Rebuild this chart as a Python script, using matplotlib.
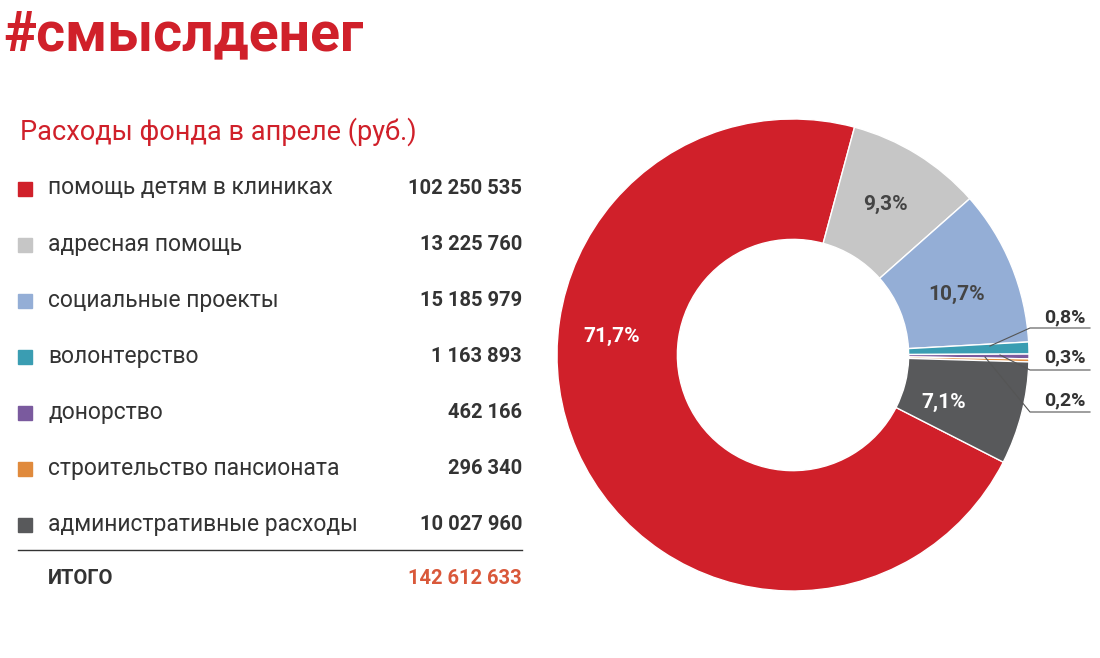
import matplotlib
matplotlib.use("Agg")
import matplotlib.pyplot as plt

categories = ["помощь детям в клиниках", "адресная помощь", "социальные проекты",
              "волонтерство", "донорство", "строительство пансионата",
              "административные расходы"]
amounts = [102250535, 13225760, 15185979, 1163893, 462166, 296340, 10027960]
amount_labels = ["102 250 535", "13 225 760", "15 185 979", "1 163 893",
                 "462 166", "296 340", "10 027 960"]
total_label = "142 612 633"
pct_labels = ["71,7%", "9,3%", "10,7%", "0,8%", "0,3%", "0,2%", "7,1%"]
colors = ["#d0202a", "#c6c6c6", "#94aed6", "#3a9db2", "#7a5a9e", "#e08a3c", "#58595b"]

plt.rcParams["font.family"] = "Roboto"

fig = plt.figure(figsize=(11, 6.58), dpi=100)
W, H = 1100, 658

def px(x, y):
    return x / W, 1 - y / H

fig.text(*px(3, 35), "#смыслденег", fontsize=40, fontweight="heavy", color="#d0202a", va="center")
fig.text(*px(20, 132), "Расходы фонда в апреле (руб.)", fontsize=19.5, color="#d0202a", va="center")

for i, (cat, lab) in enumerate(zip(categories, amount_labels)):
    y = 188 + i * 56
    fig.patches.append(plt.Rectangle(px(18, y + 8), 14 / W, 14 / H, color=colors[i],
                                     transform=fig.transFigure))
    fig.text(*px(48, y), cat, fontsize=16.5, color="#333333", va="center")
    fig.text(*px(522, y), lab, fontsize=14.5, fontweight="bold", color="#333333",
             va="center", ha="right")
fig.add_artist(plt.Line2D([18 / W, 522 / W], [1 - 550 / H] * 2, color="#333333", lw=1))
fig.text(*px(48, 579), "ИТОГО", fontsize=14.5, fontweight="bold", color="#333333", va="center")
fig.text(*px(522, 579), total_label, fontsize=14.5, fontweight="bold", color="#d9583a",
         va="center", ha="right")

# donut: center (793, 355), radius 236
r = 236
ax = fig.add_axes([(793 - r) / W, 1 - (355 + r) / H, 2 * r / W, 2 * r / H])
wedges, _ = ax.pie(amounts, colors=colors, startangle=-27, counterclock=False,
                   radius=1, wedgeprops=dict(width=0.51, edgecolor="white", linewidth=1))
ax.set_xlim(-1, 1)
ax.set_ylim(-1, 1)
ax.axis("off")

def dpos(x, y):
    return ((x - 793) / r, (355 - y) / r)

inner = {0: ((612, 336), "white"), 1: ((885, 204), "#444444"),
         2: ((957, 294), "#444444"), 6: ((944, 402), "white")}
for i, ((x, y), c) in inner.items():
    ax.text(*dpos(x, y), pct_labels[i], fontsize=15, fontweight="bold", color=c,
            ha="center", va="center")

outer = {3: ((1065, 317), (990, 346), 328), 4: ((1065, 357), (1000, 355), 370),
         5: ((1065, 400), (985, 357), 412)}
for i, ((tx, ty), (sx, sy), ly) in outer.items():
    ax.text(*dpos(tx, ty), pct_labels[i], fontsize=14, fontweight="bold",
            color="#333333", ha="center", va="center", clip_on=False)
    ax.plot(*zip(dpos(sx, sy), dpos(1030, ly), dpos(1090, ly)), color="#555555",
            lw=0.8, clip_on=False)

fig.savefig("out.png", dpi=100)
